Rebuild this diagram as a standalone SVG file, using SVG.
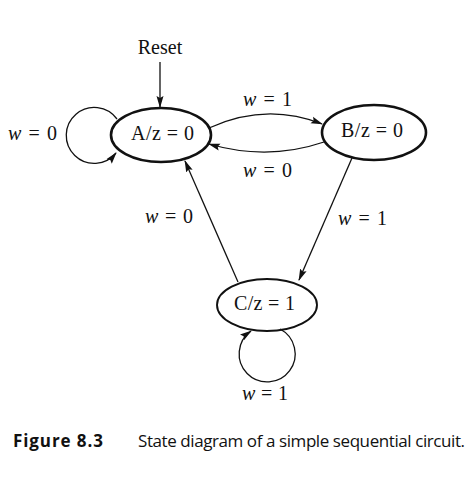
<svg xmlns="http://www.w3.org/2000/svg" width="474" height="499" viewBox="0 0 474 499">
<style>
.st{fill:none;stroke:#111;}
.thick{stroke-width:2.6;}
.thin{stroke-width:1.9;}
.lbl{font-family:"Liberation Serif","Times New Roman",serif;font-size:20px;fill:#111;}
.edge{fill:none;stroke:#111;stroke-width:1.3;marker-end:url(#ah);}
.cap{font-family:"Open Sans","Liberation Sans",sans-serif;font-size:17px;fill:#111;}
</style>
<defs>
<marker id="ah" viewBox="0 0 12 8" refX="11" refY="4" markerWidth="12" markerHeight="8" markerUnits="userSpaceOnUse" orient="auto">
<path d="M0,0.5 L12,4 L0,7.5 L2,4 Z" fill="#111"/>
</marker>
</defs>
<rect width="474" height="499" fill="#fff"/>
<g id="connectors">
<line class="edge" x1="160" y1="62" x2="160" y2="107"/>
<path class="edge" d="M117,119 A28,28 0 1 0 116,153"/>
<path class="edge" d="M209,128 Q266,102 322,124"/>
<path class="edge" d="M324,142 Q268,161 209,144"/>
<line class="edge" x1="238" y1="282" x2="185" y2="161"/>
<line class="edge" x1="352" y1="158" x2="299" y2="280"/>
<path class="edge" d="M280,329 A28,28 0 1 1 251,331"/>
</g>
<g id="labels">
<text class="lbl" x="160" y="54" font-size="17.5" text-anchor="middle">Reset</text>
<text class="lbl" x="8" y="140" textLength="49"><tspan font-style="italic">w</tspan> = 0</text>
<text class="lbl" x="243" y="106" textLength="49"><tspan font-style="italic">w</tspan> = 1</text>
<text class="lbl" x="243" y="177" textLength="49"><tspan font-style="italic">w</tspan> = 0</text>
<text class="lbl" x="145" y="223" textLength="48"><tspan font-style="italic">w</tspan> = 0</text>
<text class="lbl" x="338" y="225" textLength="49"><tspan font-style="italic">w</tspan> = 1</text>
<text class="lbl" x="242" y="400" textLength="46"><tspan font-style="italic">w</tspan> = 1</text>
</g>
<g id="A">
<ellipse class="st thick" cx="161" cy="135" rx="50" ry="27"/>
<text class="lbl" x="131" y="140" textLength="63">A/z = 0</text>
</g>
<g id="B">
<ellipse class="st thick" cx="374" cy="132.5" rx="52" ry="27.5"/>
<text class="lbl" x="341" y="137" textLength="62">B/z = 0</text>
</g>
<g id="C">
<ellipse class="st thin" cx="267" cy="305" rx="50" ry="26"/>
<text class="lbl" x="234" y="310" textLength="61" fill="#333">C/z = 1</text>
</g>
<g id="caption">
<text class="cap" x="13" y="447" font-weight="bold" textLength="90">Figure 8.3</text>
<text class="cap" x="138" y="447" textLength="327">State diagram of a simple sequential circuit.</text>
</g>
</svg>
